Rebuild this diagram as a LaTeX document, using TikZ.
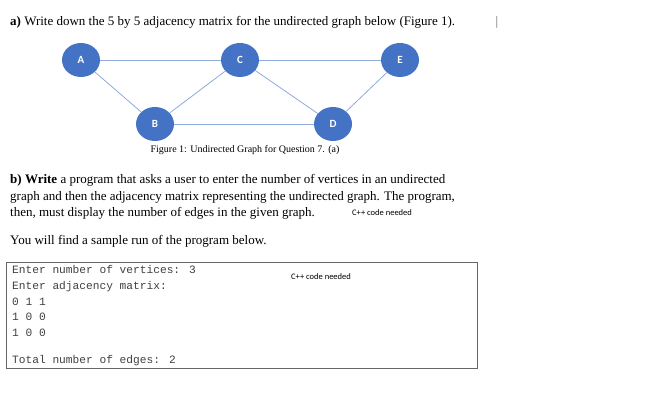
\documentclass[tikz,border=0pt]{standalone}
\usepackage{fontspec}
\setmainfont{Liberation Serif}
\newfontfamily\calib{Carlito}
\newfontfamily\monof{Liberation Mono}
\usetikzlibrary{shapes.geometric}
\definecolor{nodeblue}{HTML}{4472C4}
\definecolor{edgeblue}{HTML}{8FAADC}
\begin{document}
\begin{tikzpicture}[x=1pt,y=-1pt,
  vert/.style={ellipse,fill=nodeblue,minimum width=38pt,minimum height=34pt,inner sep=0pt,text=white,font=\calib\bfseries\fontsize{11}{13}\selectfont},
  edge/.style={draw=edgeblue,line width=0.8pt},
  body/.style={anchor=base west,inner sep=0pt,font=\fontsize{13}{15}\selectfont},
  term/.style={anchor=base west,inner sep=0pt,font=\monof\fontsize{11.2}{13}\selectfont,text=black!75},
  note/.style={anchor=base west,inner sep=0pt,font=\calib\fontsize{8.5}{10}\selectfont}]
\useasboundingbox (0,0) rectangle (664,403);
\node[body] (ta) at (10,26) {\textbf{a)} Write down the 5 by 5 adjacency matrix for the undirected graph below (Figure 1).};
\node[inner sep=0pt,font=\fontsize{13}{15}\selectfont,text=black!60] (cur) at (497,22) {|};
\node[vert] (A) at (81,60) {A};
\node[vert] (C) at (240,60) {C};
\node[vert] (E) at (400,60) {E};
\node[vert] (B) at (155,124) {B};
\node[vert] (D) at (333,124) {D};
\draw[edge] (A) -- (C); \draw[edge] (C) -- (E);
\draw[edge] (A) -- (B); \draw[edge] (B) -- (C);
\draw[edge] (C) -- (D); \draw[edge] (D) -- (E);
\draw[edge] (B) -- (D);
\node[anchor=base,inner sep=0pt,font=\fontsize{10}{12}\selectfont] (cap) at (245,153) {Figure 1: Undirected Graph for Question 7. (a)};
\node[body] (b1) at (10,184) {\textbf{b) Write} a program that asks a user to enter the number of vertices in an undirected};
\node[body] (b2) at (10,201) {graph and then the adjacency matrix representing the undirected graph. The program,};
\node[body] (b3) at (10,217) {then, must display the number of edges in the given graph.};
\node[note] (n1) at (352,216) {C++ code needed};
\node[body] (b4) at (10,245) {You will find a sample run of the program below.};
\draw[black!60,line width=0.6pt] (6,262) rectangle (477,368);
\node[term] (t1) at (12,274) {Enter number of vertices: 3};
\node[term] (t2) at (12,290) {Enter adjacency matrix:};
\node[term] (t3) at (12,306) {0 1 1};
\node[term] (t4) at (12,321) {1 0 0};
\node[term] (t5) at (12,337) {1 0 0};
\node[term] (t6) at (12,363) {Total number of edges: 2};
\node[note] (n2) at (291,280) {C++ code needed};
\end{tikzpicture}
\end{document}
